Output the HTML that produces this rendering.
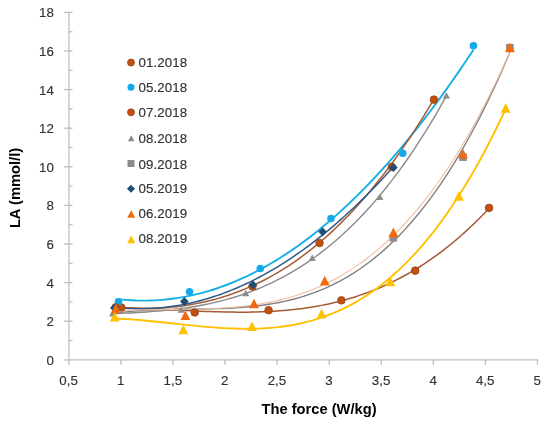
<!DOCTYPE html>
<html><head><meta charset="utf-8"><title>LA vs force</title><style>
html,body{margin:0;padding:0;background:#fff;}
body{width:550px;height:424px;overflow:hidden;position:relative;}
svg{position:absolute;left:0;top:0;display:block;}
text{font-family:"Liberation Sans",Arial,sans-serif;}
</style></head><body>
<svg width="550" height="424" viewBox="0 0 550 424">
<rect width="550" height="424" fill="#fff"/>
<g stroke="#BFBFBF" stroke-width="1.3" fill="none">
<line x1="68.9" y1="12.4" x2="68.9" y2="364.8"/>
<line x1="63.9" y1="359.8" x2="538.1" y2="359.8"/>
<line x1="63.9" y1="321.2" x2="72.5" y2="321.2"/>
<line x1="63.9" y1="282.6" x2="72.5" y2="282.6"/>
<line x1="63.9" y1="244.0" x2="72.5" y2="244.0"/>
<line x1="63.9" y1="205.4" x2="72.5" y2="205.4"/>
<line x1="63.9" y1="166.8" x2="72.5" y2="166.8"/>
<line x1="63.9" y1="128.2" x2="72.5" y2="128.2"/>
<line x1="63.9" y1="89.6" x2="72.5" y2="89.6"/>
<line x1="63.9" y1="51.0" x2="72.5" y2="51.0"/>
<line x1="63.9" y1="12.4" x2="72.5" y2="12.4"/>
<line x1="68.9" y1="340.5" x2="72.5" y2="340.5"/>
<line x1="68.9" y1="301.9" x2="72.5" y2="301.9"/>
<line x1="68.9" y1="263.3" x2="72.5" y2="263.3"/>
<line x1="68.9" y1="224.7" x2="72.5" y2="224.7"/>
<line x1="68.9" y1="186.1" x2="72.5" y2="186.1"/>
<line x1="68.9" y1="147.5" x2="72.5" y2="147.5"/>
<line x1="68.9" y1="108.9" x2="72.5" y2="108.9"/>
<line x1="68.9" y1="70.3" x2="72.5" y2="70.3"/>
<line x1="68.9" y1="31.7" x2="72.5" y2="31.7"/>
<line x1="120.9" y1="359.8" x2="120.9" y2="364.8"/>
<line x1="172.9" y1="359.8" x2="172.9" y2="364.8"/>
<line x1="225.0" y1="359.8" x2="225.0" y2="364.8"/>
<line x1="277.1" y1="359.8" x2="277.1" y2="364.8"/>
<line x1="329.2" y1="359.8" x2="329.2" y2="364.8"/>
<line x1="381.3" y1="359.8" x2="381.3" y2="364.8"/>
<line x1="433.3" y1="359.8" x2="433.3" y2="364.8"/>
<line x1="485.4" y1="359.8" x2="485.4" y2="364.8"/>
<line x1="537.5" y1="359.8" x2="537.5" y2="364.8"/>
</g>
<g font-size="13.3" fill="#333" stroke="#333" stroke-width="0.15">
<text x="53.9" y="364.8" text-anchor="end">0</text>
<text x="53.9" y="326.2" text-anchor="end">2</text>
<text x="53.9" y="287.6" text-anchor="end">4</text>
<text x="53.9" y="249.0" text-anchor="end">6</text>
<text x="53.9" y="210.4" text-anchor="end">8</text>
<text x="53.9" y="171.8" text-anchor="end">10</text>
<text x="53.9" y="133.2" text-anchor="end">12</text>
<text x="53.9" y="94.6" text-anchor="end">14</text>
<text x="53.9" y="56.0" text-anchor="end">16</text>
<text x="53.9" y="17.4" text-anchor="end">18</text>
<text x="68.6" y="384.9" text-anchor="middle">0,5</text>
<text x="120.7" y="384.9" text-anchor="middle">1</text>
<text x="172.8" y="384.9" text-anchor="middle">1,5</text>
<text x="224.8" y="384.9" text-anchor="middle">2</text>
<text x="276.9" y="384.9" text-anchor="middle">2,5</text>
<text x="329.0" y="384.9" text-anchor="middle">3</text>
<text x="381.1" y="384.9" text-anchor="middle">3,5</text>
<text x="433.1" y="384.9" text-anchor="middle">4</text>
<text x="485.2" y="384.9" text-anchor="middle">4,5</text>
<text x="537.3" y="384.9" text-anchor="middle">5</text>
</g>
<text x="319" y="414" text-anchor="middle" font-size="14.7" font-weight="bold" fill="#000">The force (W/kg)</text>
<text transform="translate(19.8,188) rotate(-90)" text-anchor="middle" font-size="14.7" font-weight="bold" fill="#000">LA (mmol/l)</text>
<path d="M121.42,308.00 L126.07,308.08 L130.73,308.19 L135.38,308.32 L140.03,308.47 L144.69,308.64 L149.34,308.82 L154.00,309.02 L158.65,309.22 L163.30,309.44 L167.96,309.66 L172.61,309.89 L177.26,310.11 L181.92,310.34 L186.57,310.56 L191.23,310.78 L195.88,310.99 L200.53,311.19 L205.19,311.38 L209.84,311.55 L214.49,311.71 L219.15,311.85 L223.80,311.96 L228.45,312.06 L233.11,312.12 L237.76,312.16 L242.42,312.17 L247.07,312.14 L251.72,312.08 L256.38,311.98 L261.03,311.84 L265.68,311.66 L270.34,311.44 L274.99,311.17 L279.64,310.85 L284.30,310.47 L288.95,310.05 L293.61,309.57 L298.26,309.03 L302.91,308.43 L307.57,307.76 L312.22,307.03 L316.87,306.24 L321.53,305.37 L326.18,304.43 L330.84,303.42 L335.49,302.33 L340.14,301.17 L344.80,299.92 L349.45,298.58 L354.10,297.16 L358.76,295.66 L363.41,294.06 L368.06,292.37 L372.72,290.58 L377.37,288.70 L382.03,286.72 L386.68,284.64 L391.33,282.45 L395.99,280.15 L400.64,277.75 L405.29,275.23 L409.95,272.60 L414.60,269.86 L419.25,267.00 L423.91,264.01 L428.56,260.91 L433.22,257.68 L437.87,254.32 L442.52,250.83 L447.18,247.21 L451.83,243.46 L456.48,239.57 L461.14,235.54 L465.79,231.37 L470.45,227.05 L475.10,222.59 L479.75,217.99 L484.41,213.23 L489.06,208.32" stroke="#A65B35" stroke-width="1.5" fill="none" stroke-linejoin="round"/>
<path d="M118.40,299.10 L122.90,299.59 L127.39,299.98 L131.89,300.28 L136.38,300.49 L140.88,300.60 L145.37,300.62 L149.86,300.55 L154.36,300.38 L158.85,300.12 L163.35,299.77 L167.84,299.32 L172.34,298.78 L176.83,298.15 L181.33,297.42 L185.82,296.60 L190.31,295.69 L194.81,294.68 L199.30,293.58 L203.80,292.39 L208.29,291.10 L212.79,289.72 L217.28,288.24 L221.77,286.67 L226.27,285.01 L230.76,283.26 L235.26,281.41 L239.75,279.47 L244.25,277.43 L248.74,275.30 L253.24,273.08 L257.73,270.77 L262.22,268.36 L266.72,265.85 L271.21,263.26 L275.71,260.57 L280.20,257.79 L284.70,254.91 L289.19,251.94 L293.68,248.88 L298.18,245.72 L302.67,242.47 L307.17,239.13 L311.66,235.69 L316.16,232.16 L320.65,228.54 L325.15,224.82 L329.64,221.01 L334.13,217.10 L338.63,213.11 L343.12,209.02 L347.62,204.83 L352.11,200.55 L356.61,196.18 L361.10,191.72 L365.59,187.16 L370.09,182.51 L374.58,177.76 L379.08,172.93 L383.57,167.99 L388.07,162.97 L392.56,157.85 L397.06,152.64 L401.55,147.33 L406.04,141.93 L410.54,136.44 L415.03,130.86 L419.53,125.18 L424.02,119.40 L428.52,113.54 L433.01,107.58 L437.50,101.53 L442.00,95.38 L446.49,89.14 L450.99,82.81 L455.48,76.38 L459.98,69.86 L464.47,63.25 L468.97,56.54 L473.46,49.74" stroke="#16B0E6" stroke-width="1.9" fill="none" stroke-linejoin="round"/>
<path d="M115.70,307.12 L119.73,307.44 L123.76,307.71 L127.79,307.94 L131.81,308.12 L135.84,308.26 L139.87,308.34 L143.90,308.37 L147.93,308.35 L151.96,308.28 L155.98,308.15 L160.01,307.97 L164.04,307.73 L168.07,307.43 L172.10,307.08 L176.13,306.66 L180.15,306.18 L184.18,305.64 L188.21,305.03 L192.24,304.36 L196.27,303.62 L200.30,302.82 L204.32,301.94 L208.35,301.00 L212.38,299.98 L216.41,298.89 L220.44,297.73 L224.47,296.50 L228.49,295.18 L232.52,293.79 L236.55,292.32 L240.58,290.77 L244.61,289.14 L248.64,287.43 L252.66,285.64 L256.69,283.76 L260.72,281.79 L264.75,279.74 L268.78,277.60 L272.81,275.37 L276.83,273.05 L280.86,270.64 L284.89,268.13 L288.92,265.53 L292.95,262.84 L296.98,260.05 L301.00,257.16 L305.03,254.17 L309.06,251.08 L313.09,247.89 L317.12,244.60 L321.15,241.21 L325.17,237.70 L329.20,234.10 L333.23,230.38 L337.26,226.56 L341.29,222.63 L345.32,218.58 L349.34,214.43 L353.37,210.16 L357.40,205.77 L361.43,201.27 L365.46,196.66 L369.49,191.92 L373.51,187.07 L377.54,182.09 L381.57,177.00 L385.60,171.78 L389.63,166.43 L393.66,160.96 L397.68,155.37 L401.71,149.64 L405.74,143.79 L409.77,137.80 L413.80,131.69 L417.83,125.44 L421.85,119.06 L425.88,112.54 L429.91,105.89 L433.94,99.10" stroke="#A65B35" stroke-width="1.5" fill="none" stroke-linejoin="round"/>
<path d="M112.58,313.67 L116.81,313.50 L121.03,313.33 L125.26,313.14 L129.48,312.94 L133.71,312.73 L137.93,312.49 L142.16,312.24 L146.39,311.96 L150.61,311.66 L154.84,311.33 L159.06,310.97 L163.29,310.58 L167.52,310.16 L171.74,309.70 L175.97,309.20 L180.19,308.66 L184.42,308.08 L188.64,307.46 L192.87,306.78 L197.10,306.06 L201.32,305.28 L205.55,304.46 L209.77,303.57 L214.00,302.63 L218.23,301.63 L222.45,300.56 L226.68,299.43 L230.90,298.23 L235.13,296.96 L239.35,295.63 L243.58,294.21 L247.81,292.72 L252.03,291.16 L256.26,289.51 L260.48,287.78 L264.71,285.96 L268.94,284.06 L273.16,282.07 L277.39,279.98 L281.61,277.80 L285.84,275.53 L290.06,273.16 L294.29,270.68 L298.52,268.11 L302.74,265.43 L306.97,262.64 L311.19,259.74 L315.42,256.73 L319.65,253.61 L323.87,250.37 L328.10,247.01 L332.32,243.53 L336.55,239.93 L340.77,236.20 L345.00,232.35 L349.23,228.36 L353.45,224.25 L357.68,220.00 L361.90,215.61 L366.13,211.09 L370.36,206.42 L374.58,201.62 L378.81,196.66 L383.03,191.56 L387.26,186.31 L391.48,180.91 L395.71,175.36 L399.94,169.65 L404.16,163.78 L408.39,157.74 L412.61,151.55 L416.84,145.19 L421.07,138.66 L425.29,131.97 L429.52,125.10 L433.74,118.06 L437.97,110.84 L442.19,103.44 L446.42,95.87" stroke="#8A8A8A" stroke-width="1.4" fill="none" stroke-linejoin="round"/>
<path d="M113.62,313.38 L118.64,312.70 L123.65,312.11 L128.67,311.59 L133.68,311.15 L138.70,310.76 L143.71,310.44 L148.73,310.16 L153.75,309.94 L158.76,309.75 L163.78,309.60 L168.79,309.48 L173.81,309.38 L178.82,309.31 L183.84,309.24 L188.86,309.18 L193.87,309.11 L198.89,309.05 L203.90,308.97 L208.92,308.87 L213.93,308.75 L218.95,308.61 L223.97,308.43 L228.98,308.20 L234.00,307.94 L239.01,307.61 L244.03,307.24 L249.04,306.79 L254.06,306.28 L259.08,305.70 L264.09,305.03 L269.11,304.28 L274.12,303.43 L279.14,302.48 L284.15,301.43 L289.17,300.27 L294.19,299.00 L299.20,297.60 L304.22,296.08 L309.23,294.42 L314.25,292.62 L319.26,290.68 L324.28,288.59 L329.29,286.34 L334.31,283.93 L339.33,281.35 L344.34,278.60 L349.36,275.67 L354.37,272.55 L359.39,269.24 L364.40,265.73 L369.42,262.02 L374.44,258.10 L379.45,253.97 L384.47,249.62 L389.48,245.04 L394.50,240.23 L399.51,235.18 L404.53,229.89 L409.55,224.34 L414.56,218.55 L419.58,212.49 L424.59,206.17 L429.61,199.57 L434.62,192.69 L439.64,185.53 L444.66,178.08 L449.67,170.34 L454.69,162.29 L459.70,153.94 L464.72,145.27 L469.73,136.28 L474.75,126.97 L479.77,117.33 L484.78,107.35 L489.80,97.03 L494.81,86.36 L499.83,75.34 L504.84,63.96 L509.86,52.21" stroke="#7F7F86" stroke-width="1.4" fill="none" stroke-linejoin="round"/>
<path d="M114.35,307.23 L117.88,307.60 L121.41,307.92 L124.94,308.18 L128.48,308.39 L132.01,308.54 L135.54,308.64 L139.07,308.68 L142.60,308.67 L146.14,308.60 L149.67,308.47 L153.20,308.30 L156.73,308.06 L160.26,307.77 L163.80,307.43 L167.33,307.03 L170.86,306.57 L174.39,306.06 L177.92,305.50 L181.46,304.88 L184.99,304.20 L188.52,303.47 L192.05,302.69 L195.59,301.85 L199.12,300.95 L202.65,300.00 L206.18,299.00 L209.71,297.93 L213.25,296.82 L216.78,295.65 L220.31,294.42 L223.84,293.14 L227.37,291.80 L230.91,290.41 L234.44,288.96 L237.97,287.46 L241.50,285.90 L245.03,284.29 L248.57,282.62 L252.10,280.90 L255.63,279.12 L259.16,277.29 L262.69,275.40 L266.23,273.46 L269.76,271.46 L273.29,269.40 L276.82,267.30 L280.35,265.13 L283.89,262.91 L287.42,260.64 L290.95,258.31 L294.48,255.93 L298.01,253.49 L301.55,250.99 L305.08,248.44 L308.61,245.84 L312.14,243.18 L315.67,240.46 L319.21,237.69 L322.74,234.86 L326.27,231.98 L329.80,229.05 L333.34,226.06 L336.87,223.01 L340.40,219.91 L343.93,216.75 L347.46,213.54 L351.00,210.27 L354.53,206.95 L358.06,203.58 L361.59,200.14 L365.12,196.66 L368.66,193.11 L372.19,189.52 L375.72,185.86 L379.25,182.16 L382.78,178.39 L386.32,174.58 L389.85,170.70 L393.38,166.77" stroke="#2E5A8C" stroke-width="1.5" fill="none" stroke-linejoin="round"/>
<path d="M115.70,311.10 L120.69,310.79 L125.68,310.52 L130.67,310.29 L135.66,310.11 L140.65,309.95 L145.64,309.83 L150.63,309.73 L155.61,309.66 L160.60,309.59 L165.59,309.54 L170.58,309.49 L175.57,309.44 L180.56,309.39 L185.55,309.32 L190.54,309.25 L195.53,309.15 L200.52,309.03 L205.51,308.88 L210.50,308.70 L215.49,308.48 L220.48,308.21 L225.47,307.90 L230.46,307.53 L235.44,307.10 L240.43,306.62 L245.42,306.06 L250.41,305.43 L255.40,304.73 L260.39,303.94 L265.38,303.06 L270.37,302.09 L275.36,301.03 L280.35,299.86 L285.34,298.59 L290.33,297.21 L295.32,295.71 L300.31,294.08 L305.30,292.34 L310.29,290.46 L315.27,288.44 L320.26,286.29 L325.25,283.99 L330.24,281.54 L335.23,278.93 L340.22,276.17 L345.21,273.24 L350.20,270.14 L355.19,266.86 L360.18,263.41 L365.17,259.77 L370.16,255.94 L375.15,251.92 L380.14,247.70 L385.13,243.28 L390.12,238.64 L395.10,233.80 L400.09,228.73 L405.08,223.45 L410.07,217.93 L415.06,212.18 L420.05,206.20 L425.04,199.97 L430.03,193.49 L435.02,186.77 L440.01,179.78 L445.00,172.54 L449.99,165.02 L454.98,157.24 L459.97,149.18 L464.96,140.83 L469.95,132.21 L474.93,123.29 L479.92,114.07 L484.91,104.55 L489.90,94.73 L494.89,84.60 L499.88,74.15 L504.87,63.38 L509.86,52.29" stroke="#F2BC9C" stroke-width="1.1" fill="none" stroke-linejoin="round"/>
<path d="M114.66,318.54 L119.61,318.74 L124.56,319.00 L129.51,319.31 L134.46,319.67 L139.41,320.06 L144.36,320.49 L149.31,320.96 L154.26,321.44 L159.21,321.95 L164.16,322.47 L169.11,323.00 L174.06,323.54 L179.01,324.08 L183.96,324.61 L188.91,325.13 L193.86,325.64 L198.81,326.13 L203.76,326.59 L208.71,327.02 L213.66,327.42 L218.61,327.78 L223.56,328.09 L228.51,328.36 L233.46,328.56 L238.41,328.71 L243.36,328.80 L248.31,328.81 L253.26,328.75 L258.21,328.61 L263.16,328.38 L268.11,328.07 L273.06,327.65 L278.01,327.14 L282.96,326.53 L287.91,325.80 L292.86,324.96 L297.81,324.00 L302.76,322.91 L307.71,321.69 L312.65,320.34 L317.60,318.85 L322.55,317.21 L327.50,315.42 L332.45,313.48 L337.40,311.38 L342.35,309.11 L347.30,306.67 L352.25,304.06 L357.20,301.27 L362.15,298.29 L367.10,295.12 L372.05,291.75 L377.00,288.19 L381.95,284.42 L386.90,280.44 L391.85,276.25 L396.80,271.83 L401.75,267.19 L406.70,262.32 L411.65,257.21 L416.60,251.87 L421.55,246.27 L426.50,240.43 L431.45,234.33 L436.40,227.97 L441.35,221.35 L446.30,214.46 L451.25,207.29 L456.20,199.84 L461.15,192.10 L466.10,184.08 L471.05,175.76 L476.00,167.13 L480.95,158.21 L485.90,148.97 L490.85,139.42 L495.80,129.54 L500.75,119.34 L505.70,108.81" stroke="#FFC000" stroke-width="1.9" fill="none" stroke-linejoin="round"/>
<circle cx="121.42" cy="307.50" r="3.80" fill="#C0500E" stroke="#9A4312" stroke-width="0.8"/>
<circle cx="194.74" cy="312.51" r="3.80" fill="#C0500E" stroke="#9A4312" stroke-width="0.8"/>
<circle cx="268.58" cy="310.20" r="3.80" fill="#C0500E" stroke="#9A4312" stroke-width="0.8"/>
<circle cx="341.38" cy="300.36" r="3.80" fill="#C0500E" stroke="#9A4312" stroke-width="0.8"/>
<circle cx="415.22" cy="270.63" r="3.80" fill="#C0500E" stroke="#9A4312" stroke-width="0.8"/>
<circle cx="489.06" cy="207.91" r="3.80" fill="#C0500E" stroke="#9A4312" stroke-width="0.8"/>
<circle cx="118.40" cy="301.90" r="3.80" fill="#12AAEA"/>
<circle cx="189.54" cy="291.86" r="3.80" fill="#12AAEA"/>
<circle cx="260.26" cy="268.51" r="3.80" fill="#12AAEA"/>
<circle cx="330.98" cy="218.52" r="3.80" fill="#12AAEA"/>
<circle cx="402.74" cy="153.29" r="3.80" fill="#12AAEA"/>
<circle cx="473.46" cy="45.79" r="3.80" fill="#12AAEA"/>
<circle cx="115.70" cy="307.42" r="3.80" fill="#C0500E" stroke="#9A4312" stroke-width="0.8"/>
<circle cx="252.46" cy="286.46" r="3.80" fill="#C0500E" stroke="#9A4312" stroke-width="0.8"/>
<circle cx="319.54" cy="243.04" r="3.80" fill="#C0500E" stroke="#9A4312" stroke-width="0.8"/>
<circle cx="391.82" cy="166.80" r="3.80" fill="#C0500E" stroke="#9A4312" stroke-width="0.8"/>
<circle cx="433.94" cy="99.64" r="3.80" fill="#C0500E" stroke="#9A4312" stroke-width="0.8"/>
<polygon points="112.58,310.09 116.18,316.49 108.98,316.49" fill="#8C8C8C"/>
<polygon points="181.22,306.42 184.82,312.82 177.62,312.82" fill="#8C8C8C"/>
<polygon points="245.70,289.82 249.30,296.22 242.10,296.22" fill="#8C8C8C"/>
<polygon points="312.26,254.50 315.86,260.90 308.66,260.90" fill="#8C8C8C"/>
<polygon points="379.86,193.71 383.46,200.11 376.26,200.11" fill="#8C8C8C"/>
<polygon points="446.42,92.19 450.02,98.59 442.82,98.59" fill="#8C8C8C"/>
<rect x="389.58" y="234.02" width="7.60" height="7.60" fill="#8C8C8C"/>
<rect x="459.26" y="153.35" width="7.60" height="7.60" fill="#8C8C8C"/>
<rect x="506.06" y="43.92" width="7.60" height="7.60" fill="#8C8C8C"/>
<polygon points="114.35,303.48 118.75,307.88 114.35,312.28 109.95,307.88" fill="#1F4E79"/>
<polygon points="184.34,297.11 188.74,301.51 184.34,305.91 179.94,301.51" fill="#1F4E79"/>
<polygon points="252.98,280.52 257.38,284.92 252.98,289.32 248.58,284.92" fill="#1F4E79"/>
<polygon points="322.66,227.44 327.06,231.84 322.66,236.24 318.26,231.84" fill="#1F4E79"/>
<polygon points="393.38,163.17 397.78,167.57 393.38,171.97 388.98,167.57" fill="#1F4E79"/>
<polygon points="115.70,303.86 120.65,313.46 110.75,313.46" fill="#F26A10"/>
<polygon points="185.38,310.42 190.33,320.02 180.43,320.02" fill="#F26A10"/>
<polygon points="254.02,298.64 258.97,308.24 249.07,308.24" fill="#F26A10"/>
<polygon points="324.74,275.87 329.69,285.47 319.79,285.47" fill="#F26A10"/>
<polygon points="393.38,227.62 398.33,237.22 388.43,237.22" fill="#F26A10"/>
<polygon points="463.06,148.88 468.01,158.48 458.11,158.48" fill="#F26A10"/>
<polygon points="509.86,42.53 514.81,52.13 504.91,52.13" fill="#F26A10"/>
<polygon points="114.66,311.96 119.61,321.56 109.71,321.56" fill="#FFC000"/>
<polygon points="183.30,324.70 188.25,334.30 178.35,334.30" fill="#FFC000"/>
<polygon points="251.94,321.42 256.89,331.02 246.99,331.02" fill="#FFC000"/>
<polygon points="321.62,308.87 326.57,318.47 316.67,318.47" fill="#FFC000"/>
<polygon points="390.26,276.64 395.21,286.24 385.31,286.24" fill="#FFC000"/>
<polygon points="458.90,191.14 463.85,200.74 453.95,200.74" fill="#FFC000"/>
<polygon points="505.70,103.14 510.65,112.73 500.75,112.73" fill="#FFC000"/>
<circle cx="131.00" cy="62.50" r="3.50" fill="#C0500E" stroke="#9A4312" stroke-width="0.8"/>
<circle cx="131.00" cy="87.30" r="3.50" fill="#12AAEA"/>
<circle cx="131.00" cy="112.30" r="3.50" fill="#C0500E" stroke="#9A4312" stroke-width="0.8"/>
<polygon points="131.20,135.30 134.40,141.30 128.00,141.30" fill="#8C8C8C"/>
<rect x="127.50" y="160.00" width="6.99" height="6.99" fill="#8C8C8C"/>
<polygon points="131.00,184.75 135.05,188.80 131.00,192.85 126.95,188.80" fill="#1F4E79"/>
<polygon points="131.20,210.20 135.20,217.80 127.20,217.80" fill="#F26A10"/>
<polygon points="131.20,235.60 135.20,243.20 127.20,243.20" fill="#FFC000"/>
<g font-size="13.3" fill="#333" stroke="#333" stroke-width="0.15">
<text x="138.4" y="66.65" letter-spacing="0.1">01.2018</text>
<text x="138.4" y="91.55" letter-spacing="0.1">05.2018</text>
<text x="138.4" y="116.50" letter-spacing="0.1">07.2018</text>
<text x="138.4" y="142.65" letter-spacing="0.1">08.2018</text>
<text x="138.4" y="168.50" letter-spacing="0.1">09.2018</text>
<text x="138.4" y="193.10" letter-spacing="0.1">05.2019</text>
<text x="138.4" y="218.05" letter-spacing="0.1">06.2019</text>
<text x="138.4" y="243.00" letter-spacing="0.1">08.2019</text>
</g>
</svg></body></html>
